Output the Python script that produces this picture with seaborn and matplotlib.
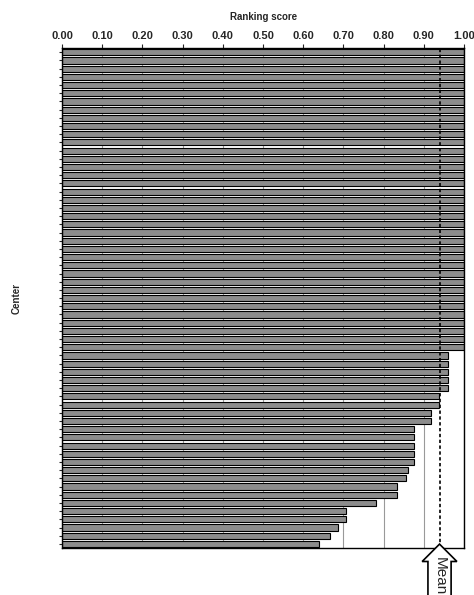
import matplotlib
matplotlib.use("Agg")
import matplotlib.pyplot as plt
import seaborn as sns
import pandas as pd

sns.set_style("white")
plt.rcParams['font.family'] = ['Liberation Sans', 'DejaVu Sans']

top_scores = [1.00] * 37
lower_scores = [0.959, 0.959, 0.959, 0.959, 0.959, 0.937, 0.937, 0.918, 0.918,
                0.875, 0.875, 0.875, 0.875, 0.875, 0.861, 0.856, 0.834, 0.834,
                0.780, 0.707, 0.707, 0.687, 0.667, 0.639]
scores = top_scores + lower_scores
centers = [f"C{i+1}" for i in range(len(scores))]
mean_score = 0.939
xticks = [0.0, 0.1, 0.2, 0.3, 0.4, 0.5, 0.6, 0.7, 0.8, 0.9, 1.0]

df = pd.DataFrame({"Center": centers, "Score": scores})

fig = plt.figure(figsize=(4.74, 5.95), dpi=100)
ax = fig.add_axes([0.131, 0.079, 0.848, 0.84])
for x in xticks:
    ax.axvline(x, color="#999999", lw=0.8, zorder=0)
sns.barplot(data=df, x="Score", y="Center", orient="h", color="#8c8c8c",
            saturation=1, edgecolor="black", linewidth=0.8, width=0.75, ax=ax, zorder=2)
ax.axvline(mean_score, color="black", ls=(0, (2, 1.5)), lw=1.2, zorder=3)
ax.set_xlim(0, 1.0)
ax.set_ylim(len(scores) - 0.5, -0.5)
ax.xaxis.tick_top()
ax.xaxis.set_label_position("top")
ax.set_xticks(xticks)
ax.set_xticklabels([f"{x:.2f}" for x in xticks], fontsize=8, fontweight="bold")
ax.set_yticklabels([])
ax.tick_params(axis="y", length=2, left=True)
ax.tick_params(axis="x", length=3, top=True, pad=2)
ax.set_xlabel("Ranking score", fontsize=7, fontweight="bold", labelpad=8)
ax.set_ylabel("Center", fontsize=7, fontweight="bold", labelpad=42)
ax.yaxis.set_label_coords(-0.1, 0.5)
for s in ax.spines.values():
    s.set_color("black")
    s.set_linewidth(1)
ax.text(mean_score, len(scores) + 0.6, "Mean", rotation=-90, ha="center", va="top",
        fontsize=11, clip_on=False,
        bbox=dict(boxstyle="larrow,pad=0.3", fc="white", ec="black", lw=1.2))
fig.savefig("out.png", dpi=100)
